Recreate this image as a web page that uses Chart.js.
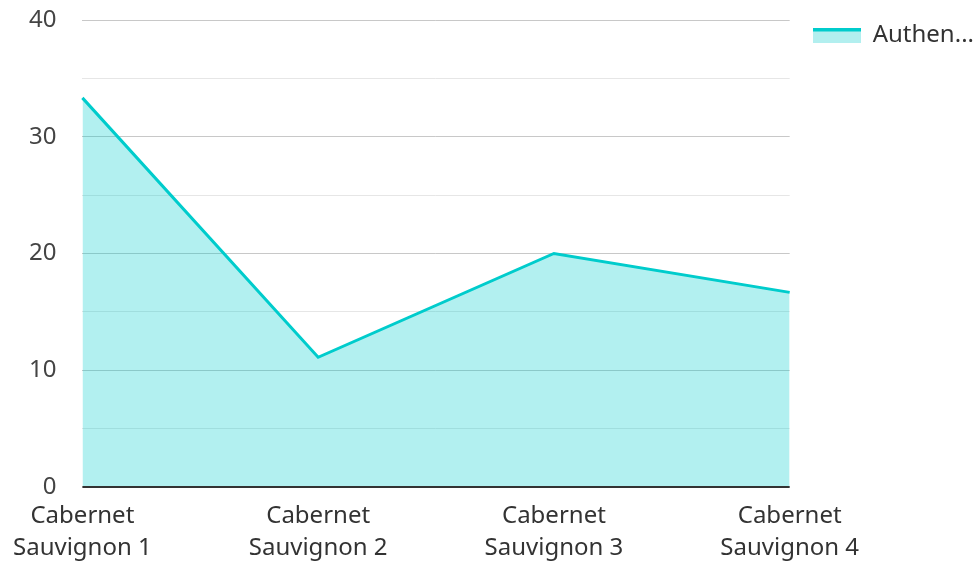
<!DOCTYPE html>
<html>
<head>
<meta charset="utf-8">
<script src="https://cdn.jsdelivr.net/npm/chart.js@4"></script>
<style>
  html, body { margin: 0; padding: 0; background: #fff; }
  #wrap { width: 976px; height: 562px; }
</style>
</head>
<body>
<div id="wrap"><canvas id="chart"></canvas></div>
<script>
const categories = [
  ['Cabernet', 'Sauvignon 1'],
  ['Cabernet', 'Sauvignon 2'],
  ['Cabernet', 'Sauvignon 3'],
  ['Cabernet', 'Sauvignon 4']
];
const seriesName = 'Authenticity';
const seriesValues = [33.33, 11.11, 20, 16.67];
const yTicks = [0, 10, 20, 30, 40];

const lineColor = '#00cccc';
const fillColor = 'rgba(0, 204, 204, 0.3)';

// legend swatch: teal line on top of the light fill
const swatch = document.createElement('canvas');
swatch.width = 48;
swatch.height = 15;
const sctx = swatch.getContext('2d');
sctx.fillStyle = '#b2efef';
sctx.fillRect(0, 3, 48, 12);
sctx.fillStyle = lineColor;
sctx.fillRect(0, 0, 48, 4);

Chart.defaults.font.family = '"Noto Sans", sans-serif';
Chart.defaults.font.size = 24;
Chart.defaults.color = '#444';

new Chart(document.getElementById('chart'), {
  type: 'line',
  data: {
    labels: categories,
    datasets: [{
      label: seriesName,
      data: seriesValues,
      borderColor: lineColor,
      backgroundColor: fillColor,
      borderWidth: 3,
      fill: 'origin',
      pointRadius: 0,
      tension: 0,
      pointStyle: swatch
    }]
  },
  options: {
    responsive: true,
    maintainAspectRatio: false,
    animation: false,
    layout: { padding: { top: 0, left: 0, right: -8, bottom: 0 } },
    plugins: {
      tooltip: { enabled: false },
      legend: {
        position: 'right',
        align: 'start',
        labels: {
          usePointStyle: true,
          pointStyleWidth: 48,
          padding: 23,
          color: '#333',
          font: { size: 24 },
          generateLabels: (chart) => {
            const items = Chart.defaults.plugins.legend.labels.generateLabels(chart);
            items.forEach(it => {
              if (it.text.length > 6) it.text = it.text.slice(0, 6) + '...';
            });
            return items;
          }
        }
      }
    },
    scales: {
      x: {
        offset: false,
        afterFit: (axis) => {
          axis.height = 75;
        },
        grid: { display: false, drawTicks: false },
        border: { display: false },
        ticks: { padding: 13, maxRotation: 0, font: { size: 24, lineHeight: 1.33 }, color: '#333' }
      },
      y: {
        min: 0,
        max: 40,
        afterBuildTicks: (axis) => {
          const t = [];
          for (let v = 0; v <= 40; v += 5) t.push({ value: v });
          axis.ticks = t;
        },
        afterFit: (axis) => {
          axis.paddingTop = 20;
          axis.paddingBottom = 0;
        },
        grid: {
          drawTicks: false,
          lineWidth: 1,
          color: (ctx) => {
            if (ctx.tick.value === 0) return 'rgba(0,0,0,0)';
            return yTicks.includes(ctx.tick.value) ? '#c8c8c8' : '#e6e6e6';
          }
        },
        border: { display: false },
        ticks: {
          padding: 26,
          color: '#444',
          font: { size: 24 },
          callback: (v) => yTicks.includes(v) ? String(v) : ''
        }
      }
    }
  },
  plugins: [{
    id: 'baseline',
    afterDatasetsDraw(chart) {
      const { ctx, chartArea } = chart;
      const y = chart.scales.y.getPixelForValue(0);
      ctx.save();
      ctx.strokeStyle = '#333';
      ctx.lineWidth = 2;
      ctx.beginPath();
      ctx.moveTo(chartArea.left, y);
      ctx.lineTo(chartArea.right, y);
      ctx.stroke();
      ctx.restore();
    }
  }]
});
</script>
</body>
</html>
